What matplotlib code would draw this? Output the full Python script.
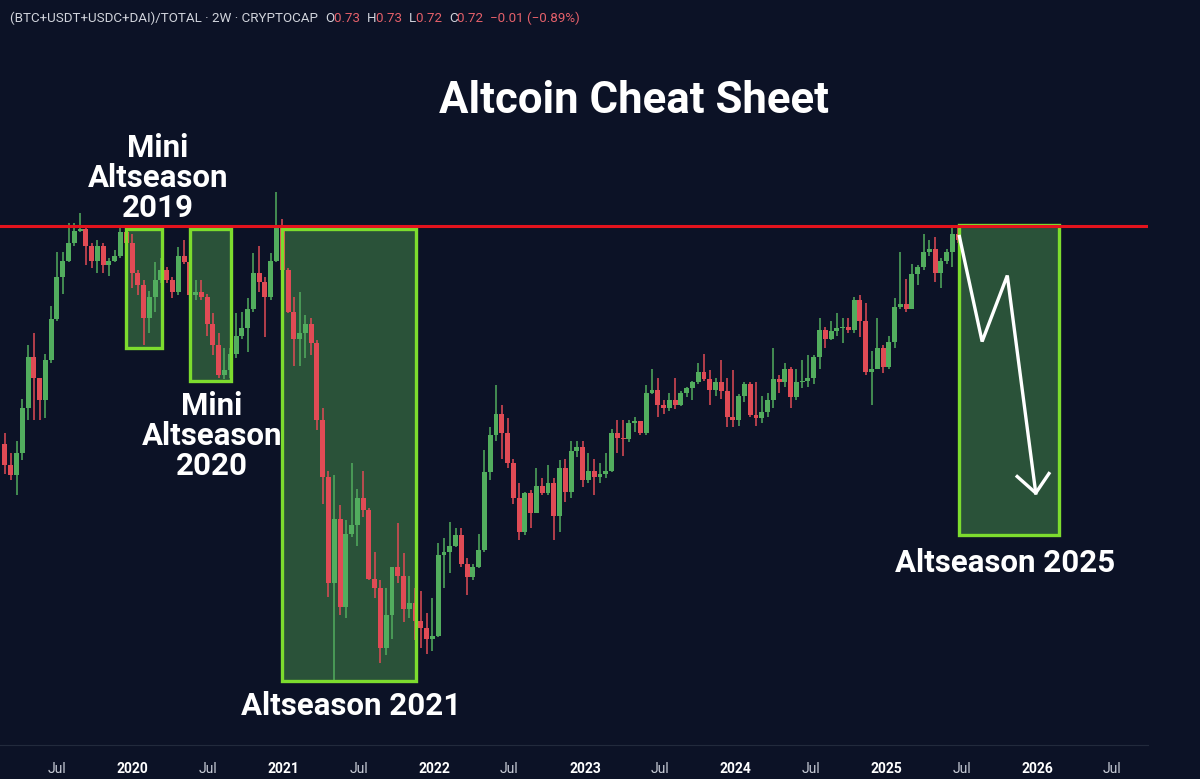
import matplotlib
matplotlib.use("Agg")
import matplotlib.pyplot as plt
import matplotlib.dates as mdates
from matplotlib.patches import Rectangle
import numpy as np
import pandas as pd

plt.rcParams['font.family'] = ['Roboto', 'DejaVu Sans']

# (BTC+USDT+USDC+DAI)/TOTAL, 2W candles
first_open = 0.585
close = [
    0.571, 0.564, 0.579, 0.609, 0.643, 0.629, 0.614, 0.641, 0.668, 0.696,
    0.707, 0.719, 0.727, 0.728, 0.717, 0.707, 0.717, 0.704, 0.707, 0.710,
    0.726, 0.719, 0.699, 0.691, 0.669, 0.683, 0.694, 0.701, 0.694, 0.686,
    0.710, 0.706, 0.684, 0.686, 0.683, 0.665, 0.651, 0.631, 0.634, 0.645,
    0.657, 0.662, 0.675, 0.699, 0.693, 0.683, 0.707, 0.729, 0.701, 0.673,
    0.655, 0.659, 0.665, 0.652, 0.601, 0.563, 0.492, 0.535, 0.476, 0.525,
    0.531, 0.549, 0.541, 0.495, 0.489, 0.449, 0.471, 0.503, 0.497, 0.475,
    0.479, 0.467, 0.462, 0.455, 0.457, 0.511, 0.513, 0.517, 0.524, 0.505,
    0.496, 0.503, 0.514, 0.566, 0.591, 0.605, 0.592, 0.572, 0.549, 0.526,
    0.552, 0.539, 0.557, 0.552, 0.559, 0.537, 0.569, 0.553, 0.580, 0.583,
    0.561, 0.567, 0.563, 0.565, 0.567, 0.592, 0.589, 0.588, 0.599, 0.600,
    0.592, 0.619, 0.621, 0.611, 0.609, 0.614, 0.611, 0.619, 0.622, 0.626,
    0.633, 0.628, 0.621, 0.626, 0.620, 0.603, 0.601, 0.617, 0.625, 0.604,
    0.602, 0.606, 0.614, 0.628, 0.626, 0.635, 0.616, 0.626, 0.627, 0.629,
    0.643, 0.661, 0.655, 0.660, 0.662, 0.663, 0.661, 0.681, 0.667, 0.633,
    0.635, 0.649, 0.636, 0.653, 0.676, 0.678, 0.675, 0.698, 0.703, 0.713,
    0.715, 0.699, 0.707, 0.713, 0.725, 0.721]
high = [
    0.592, 0.579, 0.587, 0.615, 0.651, 0.659, 0.629, 0.645, 0.677, 0.713,
    0.713, 0.732, 0.732, 0.739, 0.729, 0.719, 0.721, 0.719, 0.709, 0.714,
    0.729, 0.729, 0.725, 0.701, 0.694, 0.687, 0.706, 0.709, 0.703, 0.696,
    0.716, 0.721, 0.711, 0.694, 0.694, 0.685, 0.672, 0.659, 0.649, 0.649,
    0.672, 0.673, 0.682, 0.712, 0.717, 0.696, 0.712, 0.753, 0.735, 0.702,
    0.683, 0.686, 0.671, 0.669, 0.654, 0.609, 0.567, 0.564, 0.544, 0.534,
    0.572, 0.555, 0.567, 0.542, 0.513, 0.494, 0.489, 0.503, 0.532, 0.512,
    0.497, 0.489, 0.487, 0.472, 0.482, 0.519, 0.522, 0.533, 0.529, 0.529,
    0.509, 0.505, 0.525, 0.581, 0.596, 0.624, 0.611, 0.602, 0.575, 0.559,
    0.553, 0.554, 0.569, 0.562, 0.571, 0.562, 0.574, 0.575, 0.587, 0.587,
    0.587, 0.579, 0.575, 0.572, 0.579, 0.595, 0.601, 0.601, 0.601, 0.603,
    0.600, 0.624, 0.635, 0.629, 0.614, 0.619, 0.629, 0.620, 0.623, 0.627,
    0.639, 0.645, 0.634, 0.629, 0.641, 0.629, 0.634, 0.618, 0.626, 0.626,
    0.626, 0.617, 0.619, 0.649, 0.631, 0.639, 0.636, 0.635, 0.641, 0.644,
    0.644, 0.669, 0.663, 0.667, 0.672, 0.669, 0.669, 0.683, 0.684, 0.679,
    0.647, 0.669, 0.651, 0.657, 0.682, 0.713, 0.695, 0.705, 0.704, 0.725,
    0.721, 0.723, 0.709, 0.715, 0.729, 0.729]
low = [
    0.565, 0.561, 0.551, 0.574, 0.601, 0.601, 0.601, 0.602, 0.639, 0.667,
    0.685, 0.706, 0.717, 0.726, 0.704, 0.702, 0.699, 0.699, 0.697, 0.706,
    0.709, 0.717, 0.689, 0.684, 0.651, 0.659, 0.673, 0.692, 0.692, 0.682,
    0.684, 0.705, 0.681, 0.681, 0.681, 0.657, 0.644, 0.629, 0.628, 0.629,
    0.642, 0.655, 0.646, 0.673, 0.686, 0.656, 0.681, 0.706, 0.699, 0.672,
    0.637, 0.637, 0.642, 0.644, 0.594, 0.545, 0.483, 0.427, 0.471, 0.469,
    0.523, 0.517, 0.536, 0.494, 0.482, 0.439, 0.444, 0.455, 0.492, 0.466,
    0.469, 0.454, 0.449, 0.445, 0.447, 0.456, 0.489, 0.499, 0.516, 0.503,
    0.484, 0.494, 0.502, 0.513, 0.561, 0.587, 0.575, 0.569, 0.545, 0.521,
    0.524, 0.529, 0.539, 0.551, 0.551, 0.521, 0.526, 0.546, 0.549, 0.576,
    0.556, 0.559, 0.551, 0.559, 0.562, 0.566, 0.579, 0.577, 0.586, 0.593,
    0.591, 0.591, 0.618, 0.603, 0.605, 0.607, 0.608, 0.610, 0.616, 0.614,
    0.625, 0.627, 0.611, 0.617, 0.615, 0.596, 0.596, 0.597, 0.613, 0.603,
    0.597, 0.599, 0.603, 0.609, 0.619, 0.623, 0.609, 0.614, 0.622, 0.623,
    0.625, 0.635, 0.649, 0.654, 0.657, 0.652, 0.659, 0.659, 0.656, 0.631,
    0.611, 0.635, 0.632, 0.635, 0.649, 0.675, 0.673, 0.675, 0.691, 0.701,
    0.710, 0.693, 0.689, 0.705, 0.703, 0.719]
last_bar = "2025-06-23"
resistance = 0.730

# highlighted zones: (start, end, top, bottom)
zones = [
    ("2019-12-15", "2020-03-11", 0.728, 0.649),
    ("2020-05-18", "2020-08-25", 0.728, 0.627),
    ("2020-12-27", "2021-11-17", 0.728, 0.427),
    ("2025-06-25", "2026-02-23", 0.731, 0.524),
]
# projected path drawn in the last zone
path_dates = ["2025-06-26", "2025-08-20", "2025-10-20", "2025-12-28"]
path_vals = [0.723, 0.653, 0.697, 0.552]
head_dates = ["2025-11-13", "2025-12-28", "2026-01-29"]
head_vals = [0.563, 0.552, 0.565]

BG = "#0c1226"
UP = "#52ad5e"
DOWN = "#e04b55"

close = np.array(close)
opens = np.concatenate([[first_open], close[:-1]])
high = np.maximum(np.array(high), np.maximum(opens, close))
low = np.minimum(np.array(low), np.minimum(opens, close))
dates = pd.date_range(end=last_bar, periods=len(close), freq="14D")
x = mdates.date2num(dates)
colors = np.where(close >= opens, UP, DOWN)

fig = plt.figure(figsize=(12, 7.79), dpi=100)
fig.patch.set_facecolor(BG)
ax = fig.add_axes([0, 34 / 779, 1148 / 1200, 745 / 779])
ax.set_facecolor(BG)

for start, end, top, bottom in zones:
    x0 = mdates.date2num(pd.Timestamp(start))
    x1 = mdates.date2num(pd.Timestamp(end))
    ax.add_patch(Rectangle((x0, bottom), x1 - x0, top - bottom,
                           facecolor="#2a5239", edgecolor="none", zorder=1))
    ax.add_patch(Rectangle((x0, bottom), x1 - x0, top - bottom,
                           facecolor="none", edgecolor="#7ddc2e", lw=2.4, zorder=4))

body = close - opens
body = np.where(np.abs(body) < 0.0008, 0.0008, body)
ax.vlines(x, low, high, color=colors, lw=1.1, zorder=2)
ax.bar(x, body, bottom=opens, width=12, color=colors, zorder=3)

ax.axhline(resistance, color="#e3131d", lw=2.2, zorder=5)

px = mdates.date2num(pd.to_datetime(path_dates))
ax.plot(px, path_vals, color="white", lw=2.4, zorder=6, solid_joinstyle="miter")
hx = mdates.date2num(pd.to_datetime(head_dates))
ax.plot(hx, head_vals, color="white", lw=2.4, zorder=6)

ax.set_xlim(mdates.date2num(pd.Timestamp("2019-02-13")),
            mdates.date2num(pd.Timestamp("2026-09-26")))
ax.set_ylim(0.384, 0.8807)

ticks = pd.date_range("2019-07-01", "2026-07-01", freq="6MS")
labels = [str(t.year) if t.month == 1 else "Jul" for t in ticks]
ax.set_xticks(mdates.date2num(ticks))
ax.set_xticklabels(labels)
for lab, t in zip(ax.get_xticklabels(), ticks):
    lab.set_fontweight("bold" if t.month == 1 else "normal")
    lab.set_color("white" if t.month == 1 else "#c8ccd6")
ax.tick_params(axis="x", length=0, pad=12, labelsize=10)
ax.set_yticks([])
for s in ["top", "left", "right"]:
    ax.spines[s].set_visible(False)
ax.spines["bottom"].set_color("#222a3c")

def fx(p):
    return p / 1200

def fy(p):
    return 1 - p / 779

fig.text(fx(634), fy(101), "Altcoin Cheat Sheet", color="white", fontsize=31.5,
         fontweight="bold", ha="center", va="center")
fig.text(fx(158), fy(178), "Mini\nAltseason\n2019", color="white", fontsize=22.5,
         fontweight="bold", ha="center", va="center", linespacing=1.0)
fig.text(fx(212), fy(436), "Mini\nAltseason\n2020", color="white", fontsize=22.5,
         fontweight="bold", ha="center", va="center", linespacing=1.0)
fig.text(fx(351), fy(706), "Altseason 2021", color="white", fontsize=22.5,
         fontweight="bold", ha="center", va="center")
fig.text(fx(1005), fy(563), "Altseason 2025", color="white", fontsize=22.5,
         fontweight="bold", ha="center", va="center")

# header line with coloured OHLC values
header = [
    ("(BTC+USDT+USDC+DAI)/TOTAL · 2W · CRYPTOCAP  ", "#d1d4dc"),
    ("O", "#d1d4dc"), ("0.73  ", "#e5606a"),
    ("H", "#d1d4dc"), ("0.73  ", "#e5606a"),
    ("L", "#d1d4dc"), ("0.72  ", "#e5606a"),
    ("C", "#d1d4dc"), ("0.72  ", "#e5606a"),
    ("−0.01 (−0.89%)", "#e5606a"),
]
renderer = fig.canvas.get_renderer()
cx = 10
for txt, col in header:
    t = fig.text(fx(cx), fy(18), txt, color=col, fontsize=9.6, ha="left", va="center")
    cx += t.get_window_extent(renderer).width

fig.savefig("out.png", dpi=100, facecolor=BG)
